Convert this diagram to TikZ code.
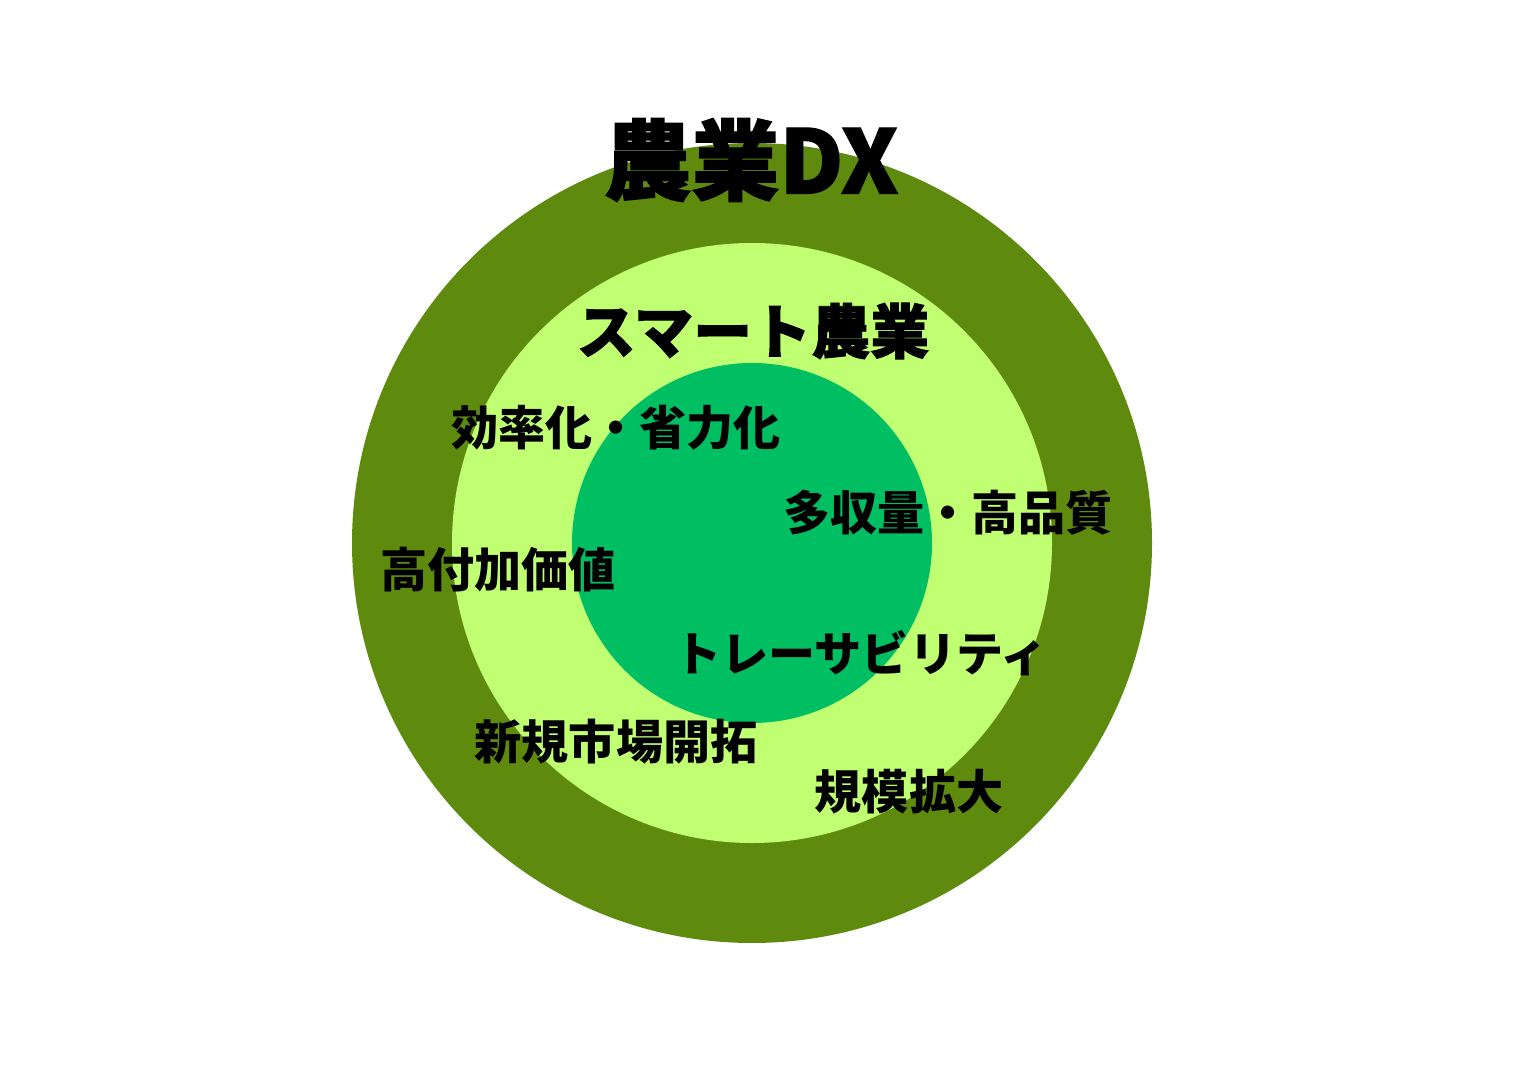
\documentclass[tikz,border=0pt]{standalone}
\usepackage{fontspec}
\setmainfont{Noto Sans CJK JP}
\newfontfamily\heavyjp{Noto Sans CJK JP}[BoldFeatures={FakeBold=1.5}]
\usetikzlibrary{positioning}
\definecolor{dxgreen}{RGB}{94,138,14}
\definecolor{smartgreen}{RGB}{193,255,114}
\definecolor{coregreen}{RGB}{0,191,99}

\begin{document}
\begin{tikzpicture}

  \tikzset{ring node/.style={circle, draw=none, inner sep=0pt}, }
  \tikzset{title node/.style={inner sep=0pt, font=\heavyjp\fontsize{25}{30}\selectfont\bfseries}, }
  \tikzset{sub node/.style={inner sep=0pt, font=\heavyjp\fontsize{16.8}{20}\selectfont\bfseries}, }
  \tikzset{item node/.style={inner sep=0pt, font=\fontsize{13.4}{16}\selectfont\bfseries}, }
\useasboundingbox (0,0) rectangle (15.36,-10.86);
\node[ring node, fill=dxgreen, minimum size=8cm] (dx) at (7.52,-5.43) {};
\node[ring node, fill=smartgreen, minimum size=6cm] (smart) at (dx.center) {};
\node[ring node, fill=coregreen, minimum size=3.6cm] (core) at (dx.center) {};
\node[title node] (t1) at (7.51,-1.60) {農業DX};
\node[sub node] (t2) at (7.53,-3.31) {スマート農業};
\node[item node] (a) at (6.16,-4.28) {効率化・省力化};
\node[item node] (b) at (9.48,-5.13) {多収量・高品質};
\node[item node] (c) at (4.98,-5.70) {高付加価値};
\node[item node] (d) at (8.61,-6.53) {トレーサビリティ};
\node[item node] (e) at (6.16,-7.42) {新規市場開拓};
\node[item node] (f) at (9.09,-7.92) {規模拡大};
%%
\end{tikzpicture}
\end{document}
